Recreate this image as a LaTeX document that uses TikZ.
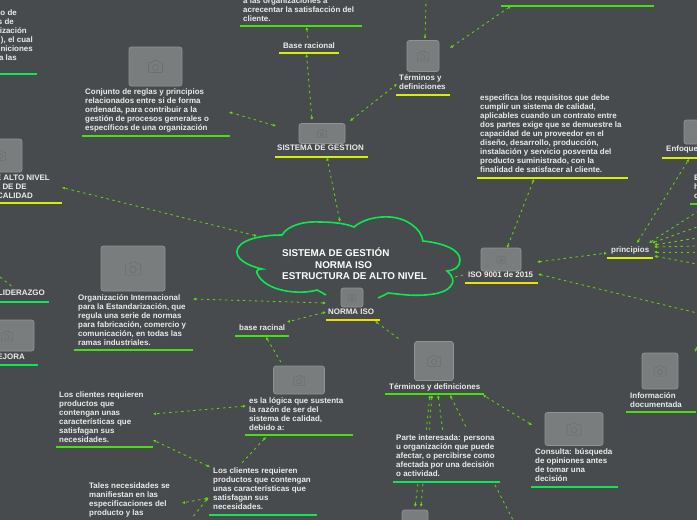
\documentclass[tikz,border=0pt]{standalone}
\usepackage{fontspec}
\setmainfont{Liberation Sans}
\usetikzlibrary{arrows.meta}
\definecolor{bg}{HTML}{474B4D}
\definecolor{imgf}{HTML}{7A7D7E}
\definecolor{imgd}{HTML}{909394}
\definecolor{lnk}{HTML}{66D810}
\definecolor{gy}{HTML}{D7F000}
\definecolor{gl}{HTML}{44E010}
\definecolor{gg}{HTML}{0CE850}
\definecolor{yy}{HTML}{F0E000}
\begin{document}
\begin{tikzpicture}[x=1pt,y=-1pt,
 txt/.style={font=\fontsize{7.95}{9}\selectfont\bfseries,text=white!92!black,align=left,inner sep=0pt,anchor=north west,yshift=-1.2pt},
 ttl/.style={font=\fontsize{9.85}{11.5}\selectfont\bfseries,text=white,align=left,inner sep=0pt,anchor=north west},
 ph/.style={draw=imgd,fill=imgf,rounded corners=2.5pt,line width=.7pt,inner sep=0pt},
 dsh/.style={draw=lnk,line width=.8pt,dash pattern=on 2.5pt off 3.5pt},
 lk/.style={dsh,{Latex[length=3pt,width=3pt]}-{Latex[length=3pt,width=3pt]}},
 lkl/.style={dsh,{Latex[length=3pt,width=3pt]}-}
]
\useasboundingbox (0,0) rectangle (697,520);
\fill[bg] (0,0) rectangle (697,520);
\def\cam#1#2#3{\begin{scope}[shift={(#1,#2)},scale=#3]
\draw[imgd!75!black,line width=.6pt,rounded corners=.8pt] (-7,-4) -- (-3.5,-4) -- (-2,-6) -- (2,-6) -- (3.5,-4) -- (7,-4) -- (7,6) -- (-7,6) -- cycle;
\draw[imgd!75!black,line width=.6pt] (0,1) circle (3);
\end{scope}}
% cloud (open at the bottom, around the NORMA ISO image)
\draw[draw=gg,line width=1.6pt] (326,295) .. controls (322,293) and (320,291) .. (317,290)
 .. controls (300,295) and (265,292) .. (257,273) .. controls (256,270) and (259,269) .. (262,269)
 .. controls (245,265) and (236,258) .. (237,251) .. controls (238,241) and (258,235) .. (282,235)
 .. controls (288,225) and (305,221) .. (320,222) .. controls (335,222) and (347,224) .. (354,227)
 .. controls (362,220) and (376,216) .. (390,217) .. controls (406,218) and (421,228) .. (423,241)
 .. controls (442,243) and (460,249) .. (460,260) .. controls (460,267) and (455,270) .. (447,271)
 .. controls (453,276) and (454,281) .. (452,284) .. controls (448,292) and (437,294) .. (425,295)
 .. controls (410,296) and (398,294) .. (388,293) .. controls (385,295) and (382,296) .. (378,298);
% images
\node[ph,minimum width=53pt,minimum height=39pt] (i1) at (155.5,66.5) {}; \cam{155.5}{66.5}{1}
\node[ph,minimum width=46pt,minimum height=20pt] (i2) at (322,133.5) {}; \cam{322}{133.5}{.65}
\node[ph,minimum width=32pt,minimum height=31pt] (i3) at (423,56) {}; \cam{423}{56}{.8}
\node[ph,minimum width=40pt,minimum height=23pt] (i4) at (501,259.5) {}; \cam{501}{259.5}{.6}
\node[ph,minimum width=64pt,minimum height=45pt] (i5) at (133,268.5) {}; \cam{133}{268.5}{1.1}
\node[ph,minimum width=22pt,minimum height=19pt] (i6) at (352,297.5) {}; \cam{352}{297.5}{.55}
\node[ph,minimum width=51pt,minimum height=28pt] (i7) at (299,380) {}; \cam{299}{380.5}{.8}
\node[ph,minimum width=39pt,minimum height=39pt] (i8) at (434,361) {}; \cam{434}{361}{.9}
\node[ph,minimum width=58pt,minimum height=33pt] (i9) at (574,429) {}; \cam{574}{429}{1}
\node[ph,minimum width=36pt,minimum height=36pt] (i10) at (660,371) {}; \cam{660}{371}{.85}
\node[ph,minimum width=26pt,minimum height=24pt] (i11) at (415,522) {};
\node[ph,minimum width=40pt,minimum height=24pt] (i12) at (704,132) {};
\node[ph,minimum width=44pt,minimum height=33pt] (i13) at (0,155.5) {}; \cam{0}{155.5}{.8}
\node[ph,minimum width=54pt,minimum height=31pt] (i14) at (7,335.5) {}; \cam{7}{336}{.8}
% title
\node[ttl] (root) at (282,248) {SISTEMA DE GESTIÓN\\\hspace*{33pt}NORMA ISO\\ESTRUCTURA DE ALTO NIVEL};
% texts
\node[txt] (t1) at (85,87) {Conjunto de reglas y principios\\relacionados entre si de forma\\ordenada, para contribuir a la\\gestión de procesos generales o\\específicos de una organización};
\node[txt] (t2) at (277,144) {SISTEMA DE GESTION};
\node[txt] (t3) at (283,41) {Base racional};
\node[txt] (t4) at (243,-4) {a las organizaciones a\\acrecentar la satisfacción del\\cliente.};
\node[txt] (t5) at (399,73) {Términos y\\definiciones};
\node[txt] (t6) at (480,93) {especifica los requisitos que debe\\cumplir un sistema de calidad,\\aplicables cuando un contrato entre\\dos partes exige que se demuestre la\\capacidad de un proveedor en el\\diseño, desarrollo, producción,\\instalación y servicio posventa del\\producto suministrado, con la\\finalidad de satisfacer al cliente.};
\node[txt] (t7) at (468,270) {ISO 9001 de 2015};
\node[txt] (t8) at (611,245) {principios};
\node[txt] (t9) at (666,144) {Enfoque al cliente};
\node[txt] (t10) at (694,173) {El\\h\\c};
\node[txt] (t11) at (328,308) {NORMA ISO};
\node[txt] (t12) at (239,323) {base racinal};
\node[txt] (t13) at (78,293) {Organización Internacional\\para la Estandarización, que\\regula una serie de normas\\para fabricación, comercio y\\comunicación, en todas las\\ramas industriales.};
\node[txt] (t14) at (249,396) {es la lógica que sustenta\\la razón de ser del\\sistema de calidad,\\debido a:};
\node[txt] (t15) at (59,390) {Los clientes requieren\\productos que\\contengan unas\\características que\\satisfagan sus\\necesidades.};
\node[txt] (t16) at (213,466) {Los clientes requieren\\productos que contengan\\unas características que\\satisfagan sus\\necesidades.};
\node[txt] (t17) at (89,481) {Tales necesidades se\\manifiestan en las\\especificaciones del\\producto y las};
\node[txt] (t18) at (389,382) {Términos y definiciones};
\node[txt] (t19) at (396,433) {Parte interesada: persona\\u organización que puede\\afectar, o percibirse como\\afectada por una decisión\\o actividad.};
\node[txt] (t20) at (535,447) {Consulta: búsqueda\\de opiniones antes\\de tomar una\\decisión};
\node[txt] (t21) at (630,391) {Información\\documentada};
\node[txt,anchor=north east,align=right] (t22) at (50,174) {E ALTO NIVEL\\DE DE\kern23pt\\CALIDAD\kern17pt};
\node[txt,anchor=north east] (t23) at (45,289) {LIDERAZGO};
\node[txt,anchor=north east] (t24) at (25,353) {EJORA};
\node[txt,anchor=north east,align=right] (t25) at (33,8) {o de\kern16pt\\s de\kern19pt\\ización\kern6pt\\), el cual\\iniciones\\a las\kern16pt};
% underlines
\def\ul#1#2#3#4{\fill[#4] (#1,#3-1) rectangle (#2,#3+1);}
\ul{82}{230}{136}{gl}
\ul{275}{368}{157}{gy}
\ul{279}{339}{53}{gy}
\ul{240}{362}{26}{gl}
\ul{396}{450}{95}{gy}
\ul{501}{654}{6}{gl}
\ul{477}{628}{178}{gy}
\ul{465}{538}{283}{yy}
\ul{607}{653}{258}{gy}
\ul{662}{697}{158}{gy}
\ul{690}{697}{204}{gl}
\ul{326}{380}{320}{yy}
\ul{235}{289}{336}{gl}
\ul{74}{193}{350}{gl}
\ul{245}{353}{435}{gl}
\ul{56}{153}{447}{gl}
\ul{209}{317}{515}{gg}
\ul{385}{484}{394}{gl}
\ul{393}{500}{482}{gg}
\ul{531}{618}{487}{gg}
\ul{626}{696}{412}{gl}
\ul{0}{62}{203}{gy}
\ul{0}{49}{302}{gg}
\ul{0}{38}{365}{gg}
\ul{0}{37}{74}{gg}
% connectors
\coordinate (c0) at (340,222);\coordinate (c0b) at (327,157.5);\draw[lk] (c0) -- (c0b);
\coordinate (a1) at (257,236);\coordinate (a2) at (62,187.5);\draw[lk] (a1) -- (a2);
\coordinate (a3) at (276,126);\coordinate (a4) at (229,112);\draw[lk] (a3) -- (a4);
\coordinate (a5) at (312,120);\coordinate (a6) at (306.5,54);\draw[lk] (a5) -- (a6);
\coordinate (a7) at (308,39);\coordinate (a8) at (306.5,27);\draw[lkl] (a8) -- (a7);
\coordinate (a9) at (350,121);\coordinate (a10) at (397,84);\draw[lk] (a9) -- (a10);
\coordinate (a11) at (425,39);\coordinate (a12) at (426,0);\draw[lkl] (a11) -- (a12);
\coordinate (a13) at (450,48);\coordinate (a14) at (511,6);\draw[lk] (a13) -- (a14);
\coordinate (a15) at (507,248);\coordinate (a16) at (534,179);\draw[lk] (a15) -- (a16);
\coordinate (a17) at (455,277);\coordinate (a18) at (463,275);\draw[dsh] (a17) -- (a18);
\coordinate (a19) at (537,262);\coordinate (a20) at (607,253);\draw[lk] (a19) -- (a20);
\coordinate (a21) at (538,274);\coordinate (a22) at (697,313);\draw[lkl] (a21) -- (a22);
\coordinate (b1) at (637,243);\coordinate (b2) at (689,159);\draw[lk] (b1) -- (b2);
\coordinate (b3) at (649,243);\coordinate (r1) at (697,212);\draw[lkl] (b3) -- (r1);
\coordinate (b4) at (652,243);\coordinate (r2) at (697,227);\draw[lkl] (b4) -- (r2);
\coordinate (b5) at (654,245);\coordinate (r3) at (697,238);\draw[lkl] (b5) -- (r3);
\coordinate (b6) at (654,247);\coordinate (r4) at (697,246);\draw[lkl] (b6) -- (r4);
\coordinate (b7) at (654,252);\coordinate (r5) at (697,252);\draw[lkl] (b7) -- (r5);
\coordinate (b8) at (654,256);\coordinate (r6) at (697,264);\draw[lkl] (b8) -- (r6);
\coordinate (b9) at (695,352);\coordinate (b10) at (697,346);\draw[lkl] (b9) -- (b10);
\coordinate (d1) at (326,303);\coordinate (d2) at (193,299);\draw[lk] (d1) -- (d2);
\coordinate (d3) at (326,312);\coordinate (d4) at (287,322);\draw[lk] (d3) -- (d4);
\coordinate (d5) at (282,364);\coordinate (d6) at (266,337);\draw[lkl] (d6) -- (d5);
\coordinate (d7) at (246,406);\coordinate (d8) at (153,414);\draw[lk] (d7) -- (d8);
\coordinate (d9) at (241,464);\coordinate (d10) at (266,437);\draw[lkl] (d10) -- (d9);
\coordinate (d11) at (210,467);\coordinate (d12) at (153,440);\draw[lk] (d11) -- (d12);
\coordinate (d13) at (209,498);\coordinate (d14) at (182,503);\draw[lk] (d13) -- (d14);
\coordinate (d15) at (208,498);\coordinate (d16) at (192,518);\draw[lkl] (d15) -- (d16);
\coordinate (e1) at (399,339);\coordinate (e2) at (375,321);\draw[lkl] (e2) -- (e1);
\coordinate (e3) at (426,432);\coordinate (e4) at (430,395);\draw[lkl] (e4) -- (e3);
\coordinate (e5) at (429,432);\coordinate (e6) at (432,395);\draw[lkl] (e6) -- (e5);
\coordinate (e7) at (443,432);\coordinate (e8) at (438,395);\draw[lkl] (e8) -- (e7);
\coordinate (e9) at (467,429);\coordinate (e10) at (450,395);\draw[lkl] (e10) -- (e9);
\coordinate (e11) at (532,425);\coordinate (e12) at (483,395);\draw[lk] (e11) -- (e12);
\coordinate (e13) at (418,483);\coordinate (e14) at (415,507);\draw[lkl] (e14) -- (e13);
\coordinate (e15) at (423,483);\coordinate (e16) at (421,507);\draw[lkl] (e16) -- (e15);
\coordinate (e17) at (495,485);\coordinate (e18) at (513,520);\draw[dsh] (e17) -- (e18);
\coordinate (f1) at (0,277);\coordinate (f2) at (14,288);\draw[dsh] (f1) -- (f2);
\end{tikzpicture}
\end{document}
